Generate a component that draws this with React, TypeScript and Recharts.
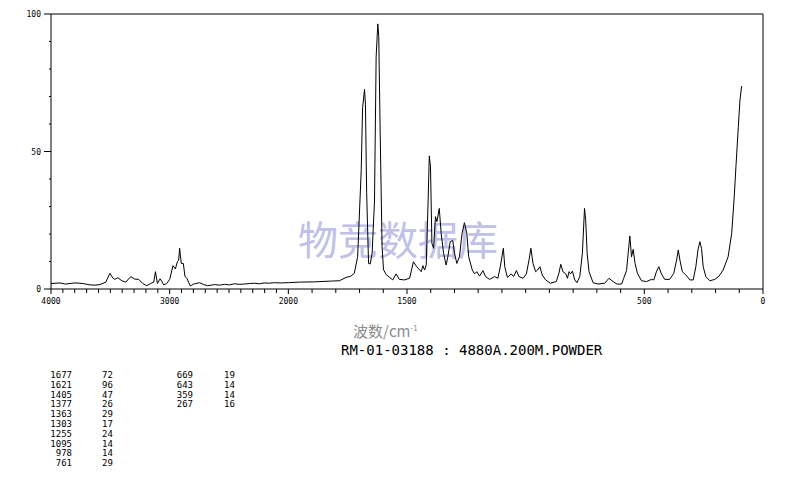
import { LineChart, Line, XAxis, YAxis, ReferenceLine } from "recharts"

// Raman spectrum: wavenumber (cm-1) and relative intensity
const wavenumbers = [
    4000, 3924, 3880, 3840, 3800, 3756, 3720, 3672, 3630, 3588, 3538, 3504, 3479, 3462, 3437, 3403,
    3370, 3328, 3294, 3261, 3227, 3193, 3160, 3134, 3120, 3103, 3081, 3067, 3050, 3025, 3000, 2972,
    2952, 2935, 2924, 2916, 2902, 2885, 2871, 2855, 2826, 2798, 2748, 2714, 2680, 2622, 2580, 2538,
    2496, 2454, 2412, 2370, 2328, 2286, 2244, 2202, 2160, 2118, 2060, 2000,
    1954, 1890, 1814, 1785, 1757, 1738, 1722, 1708, 1693, 1687, 1679, 1675, 1670, 1662, 1655, 1647,
    1637, 1630, 1623, 1619, 1613, 1605, 1599, 1587, 1560, 1546, 1532, 1511, 1489, 1473, 1459, 1440,
    1433, 1426, 1419, 1411, 1406, 1401, 1395, 1388, 1380, 1374, 1364, 1356, 1346, 1335, 1328, 1318,
    1307, 1300, 1290, 1279, 1268, 1258, 1248, 1240, 1225, 1215, 1206, 1194, 1180, 1169, 1152, 1131,
    1117, 1107, 1094, 1088, 1077, 1061, 1051, 1039, 1028, 1011, 997, 986, 978, 969, 958, 950,
    940, 930, 916, 896, 871, 860, 852, 843, 831, 824, 817, 811, 803, 793, 784, 772,
    761, 752, 747, 741, 733, 716, 695, 667, 649, 632, 615, 596, 587, 575, 568, 561,
    554, 547, 539, 529, 512, 491, 470, 460, 449, 439, 428, 414, 393, 376, 364, 357,
    350, 340, 325, 308, 294, 283, 274, 266, 259, 252, 241, 224, 203, 185, 168, 147,
    132, 122, 114, 104, 97, 90,
]
const intensities = [
    2.0, 2.2, 1.8, 2.0, 2.2, 2.1, 1.9, 1.5, 1.4, 1.6, 2.5, 5.7, 4.0, 3.5, 4.1, 3.0,
    2.5, 4.5, 3.6, 3.5, 2.0, 1.2, 2.0, 2.5, 6.3, 2.0, 3.7, 2.8, 1.5, 2.0, 3.5, 8.5,
    7.3, 9.9, 10.5, 14.8, 9.3, 9.3, 4.5, 3.9, 1.1, 1.8, 2.3, 1.6, 1.2, 1.6, 1.4, 1.7,
    1.5, 1.9, 1.7, 1.8, 2.0, 2.1, 1.9, 2.2, 2.1, 2.3, 2.2, 2.3,
    2.5, 2.6, 2.9, 3.0, 4.2, 4.6, 5.7, 11.7, 43, 66, 72.6, 67, 35, 9.3, 9.1, 13,
    32, 84.5, 96.4, 91.8, 56.7, 15.4, 7.0, 5.2, 3.3, 5.5, 3.5, 3.3, 3.9, 9.9, 8.1, 6.3,
    8.5, 6.9, 8.7, 32, 48.4, 44.5, 16.6, 14.8, 26.3, 24.5, 29.3, 20.2, 13, 8.7, 11.7, 17.2,
    17.6, 13, 9.3, 11.7, 20.2, 24.1, 20.2, 11.7, 6.9, 5.5, 6.3, 4.7, 6.7, 4.5, 3.5, 4.5,
    3.9, 8.1, 14.8, 8.1, 4.2, 5.5, 4.5, 6.7, 4.5, 3.9, 5.5, 10.5, 14.8, 9.3, 6.3, 6.9,
    8.1, 5.1, 3.3, 2.1, 2.7, 5.7, 9.0, 6.3, 5.5, 3.9, 6.3, 5.5, 6.5, 3.3, 2.3, 4.5,
    13, 29.3, 25, 13, 6.3, 2.3, 1.8, 2.1, 3.9, 2.7, 1.8, 1.8, 3.9, 6.7, 13, 19.3,
    11.7, 14.4, 9.3, 5.7, 3.0, 2.7, 3.5, 3.3, 6.3, 8.1, 5.5, 3.5, 3.5, 5.7, 10.5, 14.2,
    10.5, 6.3, 5.1, 3.3, 3.3, 8.1, 14.2, 17.2, 14.8, 8.1, 4.5, 3.0, 3.5, 4.7, 6.9, 11.7,
    20.2, 32.4, 44.5, 59, 68.7, 73.8,
]

const xTickLabels = [4000, 3000, 2000, 1500, 500, 0]
const yTickLabels = [0, 50, 100]

const peakPositions = [1677, 1621, 1405, 1377, 1363, 1303, 1255, 1095, 978, 761, 669, 643, 359, 267]
const peakHeights = [72, 96, 47, 26, 29, 17, 24, 14, 14, 29, 19, 14, 14, 16]

// the axis is compressed by half above 2000 cm-1
const toAxis = (w: number) => (w <= 2000 ? w : 2000 + (w - 2000) / 2)
const fromAxis = (t: number) => (t <= 2000 ? t : 2000 + (t - 2000) * 2)

const data = wavenumbers.map((w, i) => ({ t: toAxis(w), v: intensities[i] }))

const xTicks: number[] = []
for (let w = 0; w <= 4000; w += 100) xTicks.push(toAxis(w))
const yTicks: number[] = []
for (let v = 0; v <= 100; v += 10) yTicks.push(v)

const mono = '"DejaVu Sans Mono", monospace'

function XTick(props: any) {
    const { x, y, payload } = props
    const w = Math.round(fromAxis(payload.value))
    const labeled = xTickLabels.includes(w)
    return (
        <g>
            <line x1={x} y1={y} x2={x} y2={y + (labeled ? 5 : 4)} stroke="#000" />
            {labeled && (
                <text x={x} y={y + 15} textAnchor="middle" fontSize={8} fontFamily={mono} fill="#000">
                    {w}
                </text>
            )}
        </g>
    )
}

function YTick(props: any) {
    const { x, y, payload } = props
    const labeled = yTickLabels.includes(payload.value)
    return (
        <g>
            <line x1={labeled ? x - 7 : x - 2} y1={y} x2={x} y2={y} stroke="#000" />
            {labeled && (
                <text x={x - 10} y={y + 3} textAnchor="end" fontSize={8} fontFamily={mono} fill="#000">
                    {payload.value}
                </text>
            )}
        </g>
    )
}

export default function App() {
    return (
        <div style={{ position: "absolute", left: 0, top: 0, width: 794, height: 482, background: "#fff" }}>
            <div
                style={{
                    position: "absolute",
                    left: 298,
                    top: 216,
                    fontSize: 40,
                    lineHeight: "44px",
                    color: "rgb(192,192,232)",
                    fontFamily: '"Noto Sans CJK SC"',
                    whiteSpace: "nowrap",
                }}
            >
                物竞数据库
            </div>
            <div style={{ position: "absolute", left: 0, top: 0 }}>
                <LineChart width={794} height={310} data={data} margin={{ top: 14, right: 31, bottom: 0, left: 0 }}>
                    <XAxis
                        type="number"
                        dataKey="t"
                        domain={[0, 3000]}
                        reversed
                        ticks={xTicks}
                        interval={0}
                        height={21}
                        tickSize={0}
                        tickMargin={0}
                        tickLine={false}
                        axisLine={{ stroke: "#000" }}
                        tick={<XTick />}
                    />
                    <YAxis
                        type="number"
                        domain={[0, 100]}
                        ticks={yTicks}
                        interval={0}
                        width={51}
                        tickSize={0}
                        tickMargin={0}
                        tickLine={false}
                        axisLine={{ stroke: "#000" }}
                        tick={<YTick />}
                    />
                    <ReferenceLine y={100} stroke="#000" />
                    <ReferenceLine x={0} stroke="#000" />
                    <Line
                        type="linear"
                        dataKey="v"
                        stroke="#000"
                        strokeWidth={1}
                        dot={false}
                        isAnimationActive={false}
                    />
                </LineChart>
            </div>
            <div
                style={{
                    position: "absolute",
                    left: 353,
                    top: 323,
                    fontSize: 15,
                    lineHeight: "16px",
                    color: "#8c8c8c",
                    fontFamily: '"Noto Sans CJK SC"',
                    whiteSpace: "nowrap",
                }}
            >
                波数/cm<sup style={{ fontSize: 8, lineHeight: 0, verticalAlign: 6 }}>-1</sup>
            </div>
            <div
                style={{
                    position: "absolute",
                    left: 341,
                    top: 343,
                    fontSize: 14,
                    lineHeight: "14px",
                    fontFamily: mono,
                    color: "#000",
                    whiteSpace: "pre",
                }}
            >
                RM-01-03188 : 4880A.200M.POWDER
            </div>
            {peakPositions.map((p, i) => {
                const col = i < 10 ? 0 : 1
                const row = i < 10 ? i : i - 10
                const top = 370 + row * 9.8
                return (
                    <div key={p} style={{ fontFamily: mono, fontSize: 9, lineHeight: "10px" }}>
                        <div style={{ position: "absolute", top, left: col ? 153 : 32, width: 40, textAlign: "right" }}>
                            {p}
                        </div>
                        <div style={{ position: "absolute", top, left: col ? 224 : 102 }}>{peakHeights[i]}</div>
                    </div>
                )
            })}
        </div>
    )
}
